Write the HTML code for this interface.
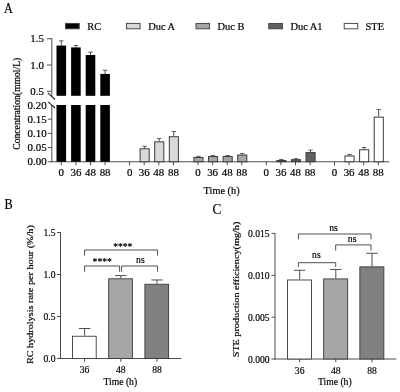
<!DOCTYPE html>
<html lang="en"><head><meta charset="utf-8"><title>Figure</title>
<style>
html,body{margin:0;padding:0;background:#fff;}
body{width:400px;height:392px;overflow:hidden;}
svg{display:block;filter:blur(0.3px);}
svg text{font-family:'Liberation Serif', 'DejaVu Serif', serif;fill:#000;}
</style></head><body>
<svg width="400" height="392" viewBox="0 0 400 392">
<rect x="0" y="0" width="400" height="392" fill="#ffffff"/>
<text transform="translate(4.00 12.80) scale(0.9 1.0)" font-size="13.6" text-anchor="start" stroke="#000" stroke-width="0.2">A</text>
<text transform="translate(4.50 208.90) scale(0.9 1.0)" font-size="13.6" text-anchor="start" stroke="#000" stroke-width="0.2">B</text>
<text transform="translate(212.50 213.60) scale(0.9 1.0)" font-size="14.6" text-anchor="start" stroke="#000" stroke-width="0.2">C</text>
<rect x="65.60" y="23.40" width="13.60" height="5.40" fill="#000000" stroke="#3a3a3a" stroke-width="0.9"/>
<text transform="translate(87.30 29.70)" font-size="10.4" text-anchor="start" stroke="#000" stroke-width="0.2">RC</text>
<rect x="126.50" y="23.40" width="13.60" height="5.40" fill="#d9d9d9" stroke="#3a3a3a" stroke-width="0.9"/>
<text transform="translate(148.20 29.70)" font-size="10.4" text-anchor="start" stroke="#000" stroke-width="0.2">Duc A</text>
<rect x="196.00" y="23.40" width="13.60" height="5.40" fill="#a6a6a8" stroke="#3a3a3a" stroke-width="0.9"/>
<text transform="translate(217.50 29.70)" font-size="10.4" text-anchor="start" stroke="#000" stroke-width="0.2">Duc B</text>
<rect x="268.80" y="23.40" width="13.60" height="5.40" fill="#606060" stroke="#3a3a3a" stroke-width="0.9"/>
<text transform="translate(290.50 29.70)" font-size="10.4" text-anchor="start" stroke="#000" stroke-width="0.2">Duc A1</text>
<rect x="344.20" y="23.40" width="13.60" height="5.40" fill="#ffffff" stroke="#3a3a3a" stroke-width="0.9"/>
<text transform="translate(365.50 29.70)" font-size="10.4" text-anchor="start" stroke="#000" stroke-width="0.2">STE</text>
<line x1="51.80" y1="38.25" x2="51.80" y2="96.00" stroke="#3a3a3a" stroke-width="0.9"/>
<line x1="51.80" y1="105.00" x2="51.80" y2="162.25" stroke="#3a3a3a" stroke-width="0.9"/>
<line x1="51.30" y1="161.75" x2="389.20" y2="161.75" stroke="#3a3a3a" stroke-width="0.9"/>
<line x1="47.80" y1="92.80" x2="55.00" y2="99.50" stroke="#222" stroke-width="1.1"/>
<line x1="48.20" y1="101.80" x2="55.00" y2="108.00" stroke="#222" stroke-width="1.1"/>
<line x1="46.80" y1="38.75" x2="51.80" y2="38.75" stroke="#3a3a3a" stroke-width="0.9"/>
<text transform="translate(44.00 42.45) scale(1.05 1.0)" font-size="10.4" text-anchor="end" stroke="#000" stroke-width="0.2">1.5</text>
<line x1="46.80" y1="65.00" x2="51.80" y2="65.00" stroke="#3a3a3a" stroke-width="0.9"/>
<text transform="translate(44.00 68.70) scale(1.05 1.0)" font-size="10.4" text-anchor="end" stroke="#000" stroke-width="0.2">1.0</text>
<line x1="46.80" y1="91.25" x2="51.80" y2="91.25" stroke="#3a3a3a" stroke-width="0.9"/>
<text transform="translate(44.00 94.95) scale(1.05 1.0)" font-size="10.4" text-anchor="end" stroke="#000" stroke-width="0.2">0.5</text>
<text transform="translate(46.60 108.70) scale(1.05 1.0)" font-size="10.4" text-anchor="end" stroke="#000" stroke-width="0.2">0.20</text>
<line x1="47.80" y1="119.19" x2="51.80" y2="119.19" stroke="#3a3a3a" stroke-width="0.9"/>
<text transform="translate(46.60 122.89) scale(1.05 1.0)" font-size="10.4" text-anchor="end" stroke="#000" stroke-width="0.2">0.15</text>
<line x1="47.80" y1="133.38" x2="51.80" y2="133.38" stroke="#3a3a3a" stroke-width="0.9"/>
<text transform="translate(46.60 137.07) scale(1.05 1.0)" font-size="10.4" text-anchor="end" stroke="#000" stroke-width="0.2">0.10</text>
<line x1="47.80" y1="147.56" x2="51.80" y2="147.56" stroke="#3a3a3a" stroke-width="0.9"/>
<text transform="translate(46.60 151.26) scale(1.05 1.0)" font-size="10.4" text-anchor="end" stroke="#000" stroke-width="0.2">0.05</text>
<line x1="47.80" y1="161.75" x2="51.80" y2="161.75" stroke="#3a3a3a" stroke-width="0.9"/>
<text transform="translate(46.60 165.45) scale(1.05 1.0)" font-size="10.4" text-anchor="end" stroke="#000" stroke-width="0.2">0.00</text>
<text transform="translate(19.80 103.70) rotate(-90) scale(1.0 1.05)" font-size="9.65" text-anchor="middle" stroke="#000" stroke-width="0.2">Concentration(mmol/L)</text>
<text transform="translate(221.60 193.70) scale(0.965 1.0)" font-size="10.7" text-anchor="middle" stroke="#000" stroke-width="0.2">Time (h)</text>
<line x1="61.30" y1="161.75" x2="61.30" y2="165.25" stroke="#3a3a3a" stroke-width="0.9"/>
<text transform="translate(61.30 176.00) scale(1.05 1.0)" font-size="10.4" text-anchor="middle" stroke="#000" stroke-width="0.2">0</text>
<line x1="61.30" y1="40.85" x2="61.30" y2="45.57" stroke="#3a3a3a" stroke-width="0.9"/>
<line x1="59.00" y1="40.85" x2="63.60" y2="40.85" stroke="#3a3a3a" stroke-width="0.8"/>
<rect x="56.50" y="45.57" width="9.6" height="50.23" fill="#000"/>
<rect x="56.50" y="105.00" width="9.6" height="56.75" fill="#000"/>
<line x1="75.90" y1="161.75" x2="75.90" y2="165.25" stroke="#3a3a3a" stroke-width="0.9"/>
<text transform="translate(75.90 176.00) scale(1.05 1.0)" font-size="10.4" text-anchor="middle" stroke="#000" stroke-width="0.2">36</text>
<line x1="75.90" y1="45.57" x2="75.90" y2="47.41" stroke="#3a3a3a" stroke-width="0.9"/>
<line x1="73.60" y1="45.57" x2="78.20" y2="45.57" stroke="#3a3a3a" stroke-width="0.8"/>
<rect x="71.10" y="47.41" width="9.6" height="48.39" fill="#000"/>
<rect x="71.10" y="105.00" width="9.6" height="56.75" fill="#000"/>
<line x1="90.50" y1="161.75" x2="90.50" y2="165.25" stroke="#3a3a3a" stroke-width="0.9"/>
<text transform="translate(90.50 176.00) scale(1.05 1.0)" font-size="10.4" text-anchor="middle" stroke="#000" stroke-width="0.2">48</text>
<line x1="90.50" y1="52.14" x2="90.50" y2="55.03" stroke="#3a3a3a" stroke-width="0.9"/>
<line x1="88.20" y1="52.14" x2="92.80" y2="52.14" stroke="#3a3a3a" stroke-width="0.8"/>
<rect x="85.70" y="55.03" width="9.6" height="40.77" fill="#000"/>
<rect x="85.70" y="105.00" width="9.6" height="56.75" fill="#000"/>
<line x1="105.10" y1="161.75" x2="105.10" y2="165.25" stroke="#3a3a3a" stroke-width="0.9"/>
<text transform="translate(105.10 176.00) scale(1.05 1.0)" font-size="10.4" text-anchor="middle" stroke="#000" stroke-width="0.2">88</text>
<line x1="105.10" y1="70.25" x2="105.10" y2="73.92" stroke="#3a3a3a" stroke-width="0.9"/>
<line x1="102.80" y1="70.25" x2="107.40" y2="70.25" stroke="#3a3a3a" stroke-width="0.8"/>
<rect x="100.30" y="73.92" width="9.6" height="21.88" fill="#000"/>
<rect x="100.30" y="105.00" width="9.6" height="56.75" fill="#000"/>
<line x1="129.60" y1="161.75" x2="129.60" y2="165.25" stroke="#3a3a3a" stroke-width="0.9"/>
<text transform="translate(129.60 176.00) scale(1.05 1.0)" font-size="10.4" text-anchor="middle" stroke="#000" stroke-width="0.2">0</text>
<line x1="144.20" y1="161.75" x2="144.20" y2="165.25" stroke="#3a3a3a" stroke-width="0.9"/>
<text transform="translate(144.20 176.00) scale(1.05 1.0)" font-size="10.4" text-anchor="middle" stroke="#000" stroke-width="0.2">36</text>
<line x1="144.60" y1="146.29" x2="144.60" y2="148.27" stroke="#3a3a3a" stroke-width="0.9"/>
<line x1="142.40" y1="146.29" x2="146.80" y2="146.29" stroke="#3a3a3a" stroke-width="0.8"/>
<rect x="140.10" y="148.77" width="9.10" height="12.98" fill="#d9d9d9" stroke="#3a3a3a" stroke-width="1.0"/>
<line x1="158.80" y1="161.75" x2="158.80" y2="165.25" stroke="#3a3a3a" stroke-width="0.9"/>
<text transform="translate(158.80 176.00) scale(1.05 1.0)" font-size="10.4" text-anchor="middle" stroke="#000" stroke-width="0.2">48</text>
<line x1="159.20" y1="138.48" x2="159.20" y2="141.32" stroke="#3a3a3a" stroke-width="0.9"/>
<line x1="157.00" y1="138.48" x2="161.40" y2="138.48" stroke="#3a3a3a" stroke-width="0.8"/>
<rect x="154.70" y="141.82" width="9.10" height="19.93" fill="#d9d9d9" stroke="#3a3a3a" stroke-width="1.0"/>
<line x1="173.40" y1="161.75" x2="173.40" y2="165.25" stroke="#3a3a3a" stroke-width="0.9"/>
<text transform="translate(173.40 176.00) scale(1.05 1.0)" font-size="10.4" text-anchor="middle" stroke="#000" stroke-width="0.2">88</text>
<line x1="173.80" y1="131.53" x2="173.80" y2="136.21" stroke="#3a3a3a" stroke-width="0.9"/>
<line x1="171.60" y1="131.53" x2="176.00" y2="131.53" stroke="#3a3a3a" stroke-width="0.8"/>
<rect x="169.30" y="136.71" width="9.10" height="25.04" fill="#d9d9d9" stroke="#3a3a3a" stroke-width="1.0"/>
<line x1="198.00" y1="161.75" x2="198.00" y2="165.25" stroke="#3a3a3a" stroke-width="0.9"/>
<text transform="translate(198.00 176.00) scale(1.05 1.0)" font-size="10.4" text-anchor="middle" stroke="#000" stroke-width="0.2">0</text>
<line x1="198.40" y1="156.36" x2="198.40" y2="156.93" stroke="#3a3a3a" stroke-width="0.9"/>
<line x1="196.20" y1="156.36" x2="200.60" y2="156.36" stroke="#3a3a3a" stroke-width="0.8"/>
<rect x="193.90" y="157.43" width="9.10" height="4.32" fill="#a6a6a8" stroke="#3a3a3a" stroke-width="1.0"/>
<line x1="212.60" y1="161.75" x2="212.60" y2="165.25" stroke="#3a3a3a" stroke-width="0.9"/>
<text transform="translate(212.60 176.00) scale(1.05 1.0)" font-size="10.4" text-anchor="middle" stroke="#000" stroke-width="0.2">36</text>
<line x1="213.00" y1="155.51" x2="213.00" y2="156.07" stroke="#3a3a3a" stroke-width="0.9"/>
<line x1="210.80" y1="155.51" x2="215.20" y2="155.51" stroke="#3a3a3a" stroke-width="0.8"/>
<rect x="208.50" y="156.57" width="9.10" height="5.18" fill="#a6a6a8" stroke="#3a3a3a" stroke-width="1.0"/>
<line x1="227.20" y1="161.75" x2="227.20" y2="165.25" stroke="#3a3a3a" stroke-width="0.9"/>
<text transform="translate(227.20 176.00) scale(1.05 1.0)" font-size="10.4" text-anchor="middle" stroke="#000" stroke-width="0.2">48</text>
<line x1="227.60" y1="155.51" x2="227.60" y2="156.07" stroke="#3a3a3a" stroke-width="0.9"/>
<line x1="225.40" y1="155.51" x2="229.80" y2="155.51" stroke="#3a3a3a" stroke-width="0.8"/>
<rect x="223.10" y="156.57" width="9.10" height="5.18" fill="#a6a6a8" stroke="#3a3a3a" stroke-width="1.0"/>
<line x1="241.80" y1="161.75" x2="241.80" y2="165.25" stroke="#3a3a3a" stroke-width="0.9"/>
<text transform="translate(241.80 176.00) scale(1.05 1.0)" font-size="10.4" text-anchor="middle" stroke="#000" stroke-width="0.2">88</text>
<line x1="242.20" y1="153.52" x2="242.20" y2="154.51" stroke="#3a3a3a" stroke-width="0.9"/>
<line x1="240.00" y1="153.52" x2="244.40" y2="153.52" stroke="#3a3a3a" stroke-width="0.8"/>
<rect x="237.70" y="155.01" width="9.10" height="6.74" fill="#a6a6a8" stroke="#3a3a3a" stroke-width="1.0"/>
<line x1="266.30" y1="161.75" x2="266.30" y2="165.25" stroke="#3a3a3a" stroke-width="0.9"/>
<text transform="translate(266.30 176.00) scale(1.05 1.0)" font-size="10.4" text-anchor="middle" stroke="#000" stroke-width="0.2">0</text>
<line x1="280.90" y1="161.75" x2="280.90" y2="165.25" stroke="#3a3a3a" stroke-width="0.9"/>
<text transform="translate(280.90 176.00) scale(1.05 1.0)" font-size="10.4" text-anchor="middle" stroke="#000" stroke-width="0.2">36</text>
<line x1="281.30" y1="159.48" x2="281.30" y2="160.05" stroke="#3a3a3a" stroke-width="0.9"/>
<line x1="279.10" y1="159.48" x2="283.50" y2="159.48" stroke="#3a3a3a" stroke-width="0.8"/>
<rect x="276.80" y="160.55" width="9.10" height="1.20" fill="#606060" stroke="#3a3a3a" stroke-width="1.0"/>
<line x1="295.50" y1="161.75" x2="295.50" y2="165.25" stroke="#3a3a3a" stroke-width="0.9"/>
<text transform="translate(295.50 176.00) scale(1.05 1.0)" font-size="10.4" text-anchor="middle" stroke="#000" stroke-width="0.2">48</text>
<line x1="295.90" y1="158.63" x2="295.90" y2="159.20" stroke="#3a3a3a" stroke-width="0.9"/>
<line x1="293.70" y1="158.63" x2="298.10" y2="158.63" stroke="#3a3a3a" stroke-width="0.8"/>
<rect x="291.40" y="159.70" width="9.10" height="2.05" fill="#606060" stroke="#3a3a3a" stroke-width="1.0"/>
<line x1="310.10" y1="161.75" x2="310.10" y2="165.25" stroke="#3a3a3a" stroke-width="0.9"/>
<text transform="translate(310.10 176.00) scale(1.05 1.0)" font-size="10.4" text-anchor="middle" stroke="#000" stroke-width="0.2">88</text>
<line x1="310.50" y1="150.12" x2="310.50" y2="152.10" stroke="#3a3a3a" stroke-width="0.9"/>
<line x1="308.30" y1="150.12" x2="312.70" y2="150.12" stroke="#3a3a3a" stroke-width="0.8"/>
<rect x="306.00" y="152.60" width="9.10" height="9.15" fill="#606060" stroke="#3a3a3a" stroke-width="1.0"/>
<line x1="334.50" y1="161.75" x2="334.50" y2="165.25" stroke="#3a3a3a" stroke-width="0.9"/>
<text transform="translate(334.50 176.00) scale(1.05 1.0)" font-size="10.4" text-anchor="middle" stroke="#000" stroke-width="0.2">0</text>
<line x1="349.10" y1="161.75" x2="349.10" y2="165.25" stroke="#3a3a3a" stroke-width="0.9"/>
<text transform="translate(349.10 176.00) scale(1.05 1.0)" font-size="10.4" text-anchor="middle" stroke="#000" stroke-width="0.2">36</text>
<line x1="349.50" y1="154.51" x2="349.50" y2="155.51" stroke="#3a3a3a" stroke-width="0.9"/>
<line x1="347.30" y1="154.51" x2="351.70" y2="154.51" stroke="#3a3a3a" stroke-width="0.8"/>
<rect x="345.00" y="156.01" width="9.10" height="5.74" fill="#ffffff" stroke="#3a3a3a" stroke-width="1.0"/>
<line x1="363.70" y1="161.75" x2="363.70" y2="165.25" stroke="#3a3a3a" stroke-width="0.9"/>
<text transform="translate(363.70 176.00) scale(1.05 1.0)" font-size="10.4" text-anchor="middle" stroke="#000" stroke-width="0.2">48</text>
<line x1="364.10" y1="147.56" x2="364.10" y2="149.27" stroke="#3a3a3a" stroke-width="0.9"/>
<line x1="361.90" y1="147.56" x2="366.30" y2="147.56" stroke="#3a3a3a" stroke-width="0.8"/>
<rect x="359.60" y="149.77" width="9.10" height="11.98" fill="#ffffff" stroke="#3a3a3a" stroke-width="1.0"/>
<line x1="378.30" y1="161.75" x2="378.30" y2="165.25" stroke="#3a3a3a" stroke-width="0.9"/>
<text transform="translate(378.30 176.00) scale(1.05 1.0)" font-size="10.4" text-anchor="middle" stroke="#000" stroke-width="0.2">88</text>
<line x1="378.70" y1="109.54" x2="378.70" y2="116.63" stroke="#3a3a3a" stroke-width="0.9"/>
<line x1="376.50" y1="109.54" x2="380.90" y2="109.54" stroke="#3a3a3a" stroke-width="0.8"/>
<rect x="374.20" y="117.13" width="9.10" height="44.62" fill="#ffffff" stroke="#3a3a3a" stroke-width="1.0"/>
<line x1="60.50" y1="232.00" x2="60.50" y2="359.00" stroke="#3a3a3a" stroke-width="0.9"/>
<line x1="60.00" y1="358.50" x2="181.30" y2="358.50" stroke="#3a3a3a" stroke-width="0.9"/>
<line x1="57.00" y1="232.50" x2="60.50" y2="232.50" stroke="#3a3a3a" stroke-width="0.9"/>
<text transform="translate(55.50 236.00) scale(0.885 1.0)" font-size="10.9" text-anchor="end" stroke="#000" stroke-width="0.2">1.5</text>
<line x1="57.00" y1="274.50" x2="60.50" y2="274.50" stroke="#3a3a3a" stroke-width="0.9"/>
<text transform="translate(55.50 278.00) scale(0.885 1.0)" font-size="10.9" text-anchor="end" stroke="#000" stroke-width="0.2">1.0</text>
<line x1="57.00" y1="316.50" x2="60.50" y2="316.50" stroke="#3a3a3a" stroke-width="0.9"/>
<text transform="translate(55.50 320.00) scale(0.885 1.0)" font-size="10.9" text-anchor="end" stroke="#000" stroke-width="0.2">0.5</text>
<line x1="57.00" y1="358.50" x2="60.50" y2="358.50" stroke="#3a3a3a" stroke-width="0.9"/>
<text transform="translate(55.50 362.00) scale(0.885 1.0)" font-size="10.9" text-anchor="end" stroke="#000" stroke-width="0.2">0.0</text>
<text transform="translate(32.80 294.60) rotate(-90) scale(1.0 0.88)" font-size="10.2" text-anchor="middle" stroke="#000" stroke-width="0.2">RC hydrolysis rate per hour (%/h)</text>
<text transform="translate(120.30 384.70) scale(0.885 1.0)" font-size="10.9" text-anchor="middle" stroke="#000" stroke-width="0.2">Time (h)</text>
<line x1="84.60" y1="358.50" x2="84.60" y2="361.70" stroke="#3a3a3a" stroke-width="0.9"/>
<text transform="translate(84.60 372.80) scale(0.885 1.0)" font-size="10.9" text-anchor="middle" stroke="#000" stroke-width="0.2">36</text>
<line x1="84.60" y1="328.51" x2="84.60" y2="335.74" stroke="#3a3a3a" stroke-width="0.9"/>
<line x1="78.90" y1="328.51" x2="90.30" y2="328.51" stroke="#3a3a3a" stroke-width="0.9"/>
<rect x="72.50" y="336.24" width="23.70" height="22.26" fill="#ffffff" stroke="#3a3a3a" stroke-width="0.9"/>
<line x1="120.80" y1="358.50" x2="120.80" y2="361.70" stroke="#3a3a3a" stroke-width="0.9"/>
<text transform="translate(120.80 372.80) scale(0.885 1.0)" font-size="10.9" text-anchor="middle" stroke="#000" stroke-width="0.2">48</text>
<line x1="120.80" y1="275.59" x2="120.80" y2="278.28" stroke="#3a3a3a" stroke-width="0.9"/>
<line x1="115.10" y1="275.59" x2="126.50" y2="275.59" stroke="#3a3a3a" stroke-width="0.9"/>
<rect x="108.70" y="278.78" width="23.70" height="79.72" fill="#a6a6a8" stroke="#3a3a3a" stroke-width="0.9"/>
<line x1="157.00" y1="358.50" x2="157.00" y2="361.70" stroke="#3a3a3a" stroke-width="0.9"/>
<text transform="translate(157.00 372.80) scale(0.885 1.0)" font-size="10.9" text-anchor="middle" stroke="#000" stroke-width="0.2">88</text>
<line x1="157.00" y1="279.96" x2="157.00" y2="283.74" stroke="#3a3a3a" stroke-width="0.9"/>
<line x1="151.30" y1="279.96" x2="162.70" y2="279.96" stroke="#3a3a3a" stroke-width="0.9"/>
<rect x="144.90" y="284.24" width="23.70" height="74.26" fill="#818181" stroke="#3a3a3a" stroke-width="0.9"/>
<polyline points="84.60,255.60 84.60,250.00 157.60,250.00 157.60,255.60" fill="none" stroke="#3a3a3a" stroke-width="0.9"/>
<polyline points="84.60,271.80 84.60,266.00 119.60,266.00 119.60,271.80" fill="none" stroke="#3a3a3a" stroke-width="0.9"/>
<polyline points="121.60,271.80 121.60,266.00 157.60,266.00 157.60,271.80" fill="none" stroke="#3a3a3a" stroke-width="0.9"/>
<text transform="translate(122.80 249.60) scale(0.885 1.0)" font-size="10.9" text-anchor="middle" stroke="#000" stroke-width="0.2">****</text>
<text transform="translate(102.20 264.80) scale(0.885 1.0)" font-size="10.9" text-anchor="middle" stroke="#000" stroke-width="0.2">****</text>
<text transform="translate(140.40 262.70) scale(0.885 1.0)" font-size="10.9" text-anchor="middle" stroke="#000" stroke-width="0.2">ns</text>
<line x1="275.00" y1="232.95" x2="275.00" y2="359.50" stroke="#3a3a3a" stroke-width="0.9"/>
<line x1="274.50" y1="359.00" x2="396.30" y2="359.00" stroke="#3a3a3a" stroke-width="0.9"/>
<line x1="271.50" y1="233.45" x2="275.00" y2="233.45" stroke="#3a3a3a" stroke-width="0.9"/>
<text transform="translate(269.70 236.95) scale(0.885 1.0)" font-size="10.9" text-anchor="end" stroke="#000" stroke-width="0.2">0.015</text>
<line x1="271.50" y1="275.30" x2="275.00" y2="275.30" stroke="#3a3a3a" stroke-width="0.9"/>
<text transform="translate(269.70 278.80) scale(0.885 1.0)" font-size="10.9" text-anchor="end" stroke="#000" stroke-width="0.2">0.010</text>
<line x1="271.50" y1="317.15" x2="275.00" y2="317.15" stroke="#3a3a3a" stroke-width="0.9"/>
<text transform="translate(269.70 320.65) scale(0.885 1.0)" font-size="10.9" text-anchor="end" stroke="#000" stroke-width="0.2">0.005</text>
<line x1="271.50" y1="359.00" x2="275.00" y2="359.00" stroke="#3a3a3a" stroke-width="0.9"/>
<text transform="translate(269.70 362.50) scale(0.885 1.0)" font-size="10.9" text-anchor="end" stroke="#000" stroke-width="0.2">0.000</text>
<text transform="translate(238.50 289.50) rotate(-90) scale(1.0 0.88)" font-size="10.2" text-anchor="middle" stroke="#000" stroke-width="0.2">STE production efficiency(mg/h)</text>
<text transform="translate(334.80 385.40) scale(0.885 1.0)" font-size="10.9" text-anchor="middle" stroke="#000" stroke-width="0.2">Time (h)</text>
<line x1="299.65" y1="359.00" x2="299.65" y2="362.20" stroke="#3a3a3a" stroke-width="0.9"/>
<text transform="translate(299.65 373.70) scale(0.885 1.0)" font-size="10.9" text-anchor="middle" stroke="#000" stroke-width="0.2">36</text>
<line x1="299.65" y1="270.28" x2="299.65" y2="279.49" stroke="#3a3a3a" stroke-width="0.9"/>
<line x1="293.95" y1="270.28" x2="305.35" y2="270.28" stroke="#3a3a3a" stroke-width="0.9"/>
<rect x="287.50" y="279.99" width="24.00" height="79.01" fill="#ffffff" stroke="#3a3a3a" stroke-width="0.9"/>
<line x1="335.80" y1="359.00" x2="335.80" y2="362.20" stroke="#3a3a3a" stroke-width="0.9"/>
<text transform="translate(335.80 373.70) scale(0.885 1.0)" font-size="10.9" text-anchor="middle" stroke="#000" stroke-width="0.2">48</text>
<line x1="335.80" y1="269.44" x2="335.80" y2="278.40" stroke="#3a3a3a" stroke-width="0.9"/>
<line x1="330.10" y1="269.44" x2="341.50" y2="269.44" stroke="#3a3a3a" stroke-width="0.9"/>
<rect x="323.65" y="278.90" width="24.00" height="80.10" fill="#a6a6a8" stroke="#3a3a3a" stroke-width="0.9"/>
<line x1="372.00" y1="359.00" x2="372.00" y2="362.20" stroke="#3a3a3a" stroke-width="0.9"/>
<text transform="translate(372.00 373.70) scale(0.885 1.0)" font-size="10.9" text-anchor="middle" stroke="#000" stroke-width="0.2">88</text>
<line x1="372.00" y1="253.29" x2="372.00" y2="266.34" stroke="#3a3a3a" stroke-width="0.9"/>
<line x1="366.30" y1="253.29" x2="377.70" y2="253.29" stroke="#3a3a3a" stroke-width="0.9"/>
<rect x="359.85" y="266.84" width="24.00" height="92.16" fill="#818181" stroke="#3a3a3a" stroke-width="0.9"/>
<polyline points="298.40,239.40 298.40,234.00 371.00,234.00 371.00,239.40" fill="none" stroke="#3a3a3a" stroke-width="0.9"/>
<polyline points="335.70,250.60 335.70,244.90 371.00,244.90 371.00,250.60" fill="none" stroke="#3a3a3a" stroke-width="0.9"/>
<polyline points="298.40,266.90 298.40,262.70 335.70,262.70 335.70,266.90" fill="none" stroke="#3a3a3a" stroke-width="0.9"/>
<text transform="translate(333.50 231.10) scale(0.885 1.0)" font-size="10.9" text-anchor="middle" stroke="#000" stroke-width="0.2">ns</text>
<text transform="translate(352.10 241.70) scale(0.885 1.0)" font-size="10.9" text-anchor="middle" stroke="#000" stroke-width="0.2">ns</text>
<text transform="translate(316.40 258.30) scale(0.885 1.0)" font-size="10.9" text-anchor="middle" stroke="#000" stroke-width="0.2">ns</text>
</svg>
</body></html>
